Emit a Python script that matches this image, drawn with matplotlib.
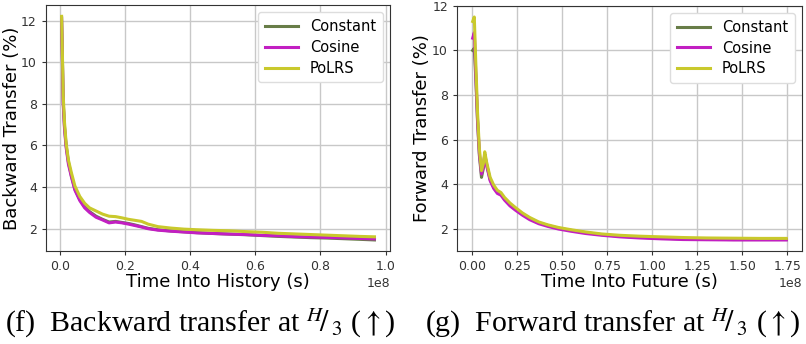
import numpy as np
import matplotlib
matplotlib.use("Agg")
import matplotlib.pyplot as plt

plt.rcParams['mathtext.fontset'] = 'stix'

# ---- data (x in units of 1e8 s) ----
hist_x = [0.004, 0.006, 0.009, 0.013, 0.018, 0.025, 0.034, 0.045, 0.06, 0.075,
          0.09, 0.11, 0.13, 0.15, 0.17, 0.19, 0.21, 0.23, 0.25, 0.27,
          0.30, 0.34, 0.38, 0.42, 0.47, 0.52, 0.57, 0.62, 0.67, 0.72,
          0.77, 0.82, 0.87, 0.92, 0.966]
hist_constant = [12.15, 10.6, 8.1, 6.9, 6.0, 5.2, 4.55, 3.9, 3.4, 3.05,
                 2.82, 2.6, 2.45, 2.32, 2.35, 2.3, 2.25, 2.18, 2.1, 2.02,
                 1.95, 1.89, 1.85, 1.81, 1.77, 1.74, 1.71, 1.67, 1.63, 1.6,
                 1.57, 1.55, 1.52, 1.49, 1.46]
hist_cosine = [12.1, 10.5, 8.0, 6.8, 5.9, 5.1, 4.5, 3.85, 3.35, 3.0,
               2.78, 2.55, 2.42, 2.28, 2.32, 2.28, 2.22, 2.15, 2.08, 2.0,
               1.93, 1.88, 1.84, 1.8, 1.77, 1.74, 1.72, 1.68, 1.66, 1.62,
               1.6, 1.58, 1.56, 1.53, 1.51]
hist_polrs = [12.2, 10.8, 8.4, 7.1, 6.1, 5.3, 4.7, 4.05, 3.55, 3.22,
              3.0, 2.85, 2.7, 2.6, 2.58, 2.52, 2.45, 2.4, 2.35, 2.22,
              2.1, 2.03, 1.98, 1.95, 1.92, 1.9, 1.86, 1.83, 1.78, 1.75,
              1.72, 1.69, 1.66, 1.63, 1.61]

fut_x = [0.003, 0.012, 0.02, 0.03, 0.04, 0.052, 0.062, 0.07, 0.08, 0.1,
         0.12, 0.14, 0.16, 0.18, 0.21, 0.24, 0.28, 0.32, 0.37, 0.42,
         0.48, 0.55, 0.63, 0.72, 0.82, 0.93, 1.05, 1.17, 1.3, 1.45,
         1.6, 1.745]
fut_constant = [10.0, 10.1, 8.8, 6.8, 5.3, 4.3, 4.7, 5.35, 4.9, 4.2,
                3.85, 3.65, 3.55, 3.33, 3.07, 2.88, 2.65, 2.45, 2.26, 2.14,
                2.02, 1.92, 1.82, 1.73, 1.66, 1.61, 1.57, 1.54, 1.52, 1.51,
                1.51, 1.51]
fut_cosine = [10.55, 10.8, 9.0, 6.9, 5.4, 4.45, 4.75, 5.3, 4.85, 4.15,
              3.8, 3.58, 3.5, 3.28, 3.02, 2.83, 2.6, 2.4, 2.22, 2.1,
              1.98, 1.88, 1.78, 1.7, 1.63, 1.58, 1.54, 1.51, 1.5, 1.49,
              1.49, 1.49]
fut_polrs = [11.3, 11.5, 9.5, 7.2, 5.6, 4.6, 4.9, 5.45, 5.0, 4.3,
             3.95, 3.72, 3.62, 3.4, 3.15, 2.95, 2.7, 2.5, 2.3, 2.17,
             2.05, 1.95, 1.85, 1.76, 1.7, 1.66, 1.63, 1.6, 1.58, 1.57,
             1.56, 1.56]

labels = ["Constant", "Cosine", "PoLRS"]
colors = ["#687d48", "#c21fc2", "#c9c92c"]

fig = plt.figure(figsize=(8.06, 3.44), dpi=100)
axL = fig.add_axes([0.057, 0.270, 0.427, 0.715])
axR = fig.add_axes([0.567, 0.270, 0.428, 0.713])


def draw(ax, x, series, xlabel, ylabel, ylab_x):
    x = np.array(x) * 1e8
    for ys, lab, c in zip(series, labels, colors):
        ax.plot(x, ys, color=c, lw=2.2, label=lab)
    ax.grid(True, color="#c8c8c8", lw=1.0)
    ax.set_axisbelow(True)
    ax.set_xlabel(xlabel, fontsize=13, labelpad=0)
    ax.set_ylabel(ylabel, fontsize=13)
    ax.yaxis.set_label_coords(ylab_x, 0.5)
    ax.tick_params(labelsize=9, colors="#333333", length=3)
    ax.xaxis.get_offset_text().set_fontsize(9)
    ax.xaxis.get_offset_text().set_color("#333333")
    for s in ax.spines.values():
        s.set_color("#333333")
    leg = ax.legend(loc="upper right", fontsize=10.5, handlelength=2.3,
                    borderpad=0.45, labelspacing=0.4, framealpha=1.0)
    leg.get_frame().set_edgecolor("#dddddd")


draw(axL, hist_x, [hist_constant, hist_cosine, hist_polrs],
     "Time Into History (s)", "Backward Transfer (%)", -0.073)
axL.set_yticks([2, 4, 6, 8, 10, 12])
draw(axR, fut_x, [fut_constant, fut_cosine, fut_polrs],
     "Time Into Future (s)", "Forward Transfer (%)", -0.075)
axR.set_yticks([2, 4, 6, 8, 10, 12])

fig.text(0.248, 0.035, r"(f)  Backward transfer at $^{H}\!/\,_{3}$ ($\uparrow$)",
         family="Liberation Serif", fontsize=21.5, ha="center", va="baseline")
fig.text(0.760, 0.035, r"(g)  Forward transfer at $^{H}\!/\,_{3}$ ($\uparrow$)",
         family="Liberation Serif", fontsize=21.5, ha="center", va="baseline")

fig.savefig("out.png", dpi=100)
